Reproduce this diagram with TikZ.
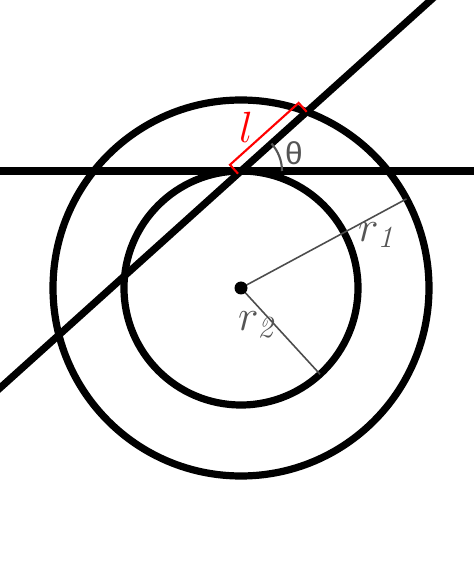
\documentclass[tikz,border=0pt]{standalone}
\usepackage{fontspec}
\newfontfamily\greekfont{Liberation Sans}
\usetikzlibrary{calc}
\definecolor{labelgray}{HTML}{555555}
\tikzset{
	thickline/.style={line width=4.1pt, black},
	radius line/.style={line width=0.9pt, labelgray!90!black},
	lab/.style={text=labelgray, inner sep=0pt}
}
\begin{document}
\begin{tikzpicture}[x=0.02cm, y=0.02cm]
		\useasboundingbox (0,0) rectangle (474,576);
		\clip (0,0) rectangle (474,576);
		\coordinate (O) at (241,288);
		\coordinate (T) at (241,405);
		\coordinate (P) at ($(T)+(42:88.4)$);
		
		% circles and lines
		\draw[thickline] (O) circle (117);
		\draw[thickline] (O) circle (188);
		\draw[thickline] (-10,405) -- (490,405);
		\draw[thickline] ($(T)+(222:345)$) -- ($(T)+(42:280)$);
		
		% radii
		\draw[radius line] (O) -- ($(O)+(28.3:188)$) coordinate (R1);
		\draw[radius line] (O) -- ($(O)+(-47.5:117)$) coordinate (R2);
		\fill (O) circle (6.5);
		\node[lab] (r1) at (376,341) {\fontsize{25}{28}\selectfont$r_{\mathit{1}}$};
		\node[lab] (r2) at (256,251) {\fontsize{25}{28}\selectfont$r_{\mathit{2}}$};
		
		% angle
		\draw[labelgray, line width=1.2pt] ($(T)+(0:41)$) arc[start angle=0, end angle=42, radius=41];
		\node[lab] (theta) at (294,423) {\fontsize{18}{20}\greekfont θ};
		
		% length bracket
		\draw[red, line width=1.2pt] ($(T)+(222:4)$) -- ($(T)+(222:4)+(132:12)$) -- ($(P)+(132:12)$) -- (P);
		\node[red, inner sep=0pt] (ell) at (246,449) {\fontsize{26}{30}\selectfont$l$};
	\end{tikzpicture}
\end{document}
